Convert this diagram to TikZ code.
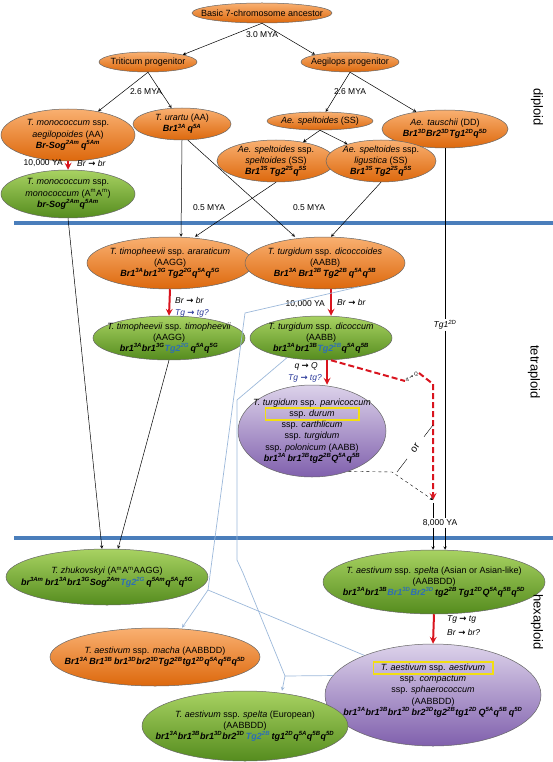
\documentclass[tikz,border=0pt]{standalone}
\usepackage{fontspec}
\setmainfont{Liberation Sans}
\newfontfamily\symf{DejaVu Sans}
\usepackage{tikz}
\usetikzlibrary{shapes.geometric,arrows,calc}

\definecolor{oraT}{HTML}{F9B071}
\definecolor{oraB}{HTML}{DD680C}
\definecolor{grnT}{HTML}{A8D262}
\definecolor{grnB}{HTML}{558C1E}
\definecolor{purT}{HTML}{DCD2EA}
\definecolor{purB}{HTML}{8060AD}
\definecolor{bandc}{HTML}{4A7EBB}
\definecolor{lblue}{HTML}{9CB8DA}
\definecolor{rd}{HTML}{D9141E}
\definecolor{gblue}{HTML}{2E6EB5}
\definecolor{tgblue}{HTML}{2B3A9A}
\definecolor{ylw}{HTML}{F2DE12}

\newcommand\su[1]{\textsuperscript{#1}}
\newcommand\gn[1]{{\bfseries\itshape #1}}
\newcommand\gto{{\symf\bfseries →}}
\newcommand\yb[2]{{\setlength\fboxsep{1pt}\setlength\fboxrule{1.5pt}\color{ylw}\fbox{\color{black}\makebox[#1]{#2}}}}

\begin{document}
\begin{tikzpicture}[x=1pt,y=-1pt,>=stealth,
  ell/.style={ellipse,draw=black!60,line width=0.5pt,inner xsep=-60pt,inner ysep=-35pt,
    align=center,font=\fontsize{9}{11.3}\selectfont},
  ora/.style={ell,top color=oraT,bottom color=oraB},
  grn/.style={ell,top color=grnT,bottom color=grnB},
  pur/.style={ell,top color=purT,bottom color=purB},
  sz/.style 2 args={minimum width=#1,minimum height=#2},
  lab/.style={inner sep=1pt,font=\fontsize{8.5}{10}\selectfont},
  ploidy/.style={rotate=-90,font=\fontsize{13}{15}\selectfont},
  bandline/.style={bandc,line width=4pt},
  con/.style={->,line width=0.5pt},
  redarr/.style={->,rd,line width=2pt},
  reddash/.style={rd,line width=2pt,dash pattern=on 6pt off 3pt},
  pale/.style={lblue,line width=0.7pt}]

\useasboundingbox (0,0) rectangle (553,762);

\draw[bandline] (14,223) -- (553,223);
\draw[bandline] (14,538) -- (553,538);

% diploid
\node[ora,sz={140}{20}] (anc) at (262,13) {Basic 7-chromosome ancestor};
\node[ora,sz={98}{20}] (trit) at (148,62) {Triticum progenitor};
\node[ora,sz={98}{20}] (aeg) at (350,62) {Aegilops progenitor};
\node[ora,sz={134}{52}] (aegil) at (68,135) {\textit{T. monococcum} ssp.\\\textit{aegilopoides} (AA)\\\gn{Br-Sog\su{2Am}\,q\su{5Am}}};
\node[ora,sz={98}{32}] (urartu) at (182,124) {\textit{T. urartu} (AA)\\\gn{Br1\su{3A}\,q\su{5A}}};
\node[ora,sz={106}{18}] (spelt) at (320,121) {\textit{Ae. speltoides} (SS)};
\node[ora,sz={126}{38}] (taus) at (445,129) {\textit{Ae. tauschii} (DD)\\\gn{Br1\su{3D}Br2\su{3D}Tg1\su{2D}q\su{5D}}};
\node[ora,sz={118}{42}] (spsp) at (276,161) {\textit{Ae. speltoides} ssp.\\\textit{speltoides} (SS)\\\gn{Br1\su{3S}\,Tg2\su{2S}q\su{5S}}};
\node[ora,sz={110}{42}] (splig) at (381,161) {\textit{Ae. speltoides} ssp.\\\textit{ligustica} (SS)\\\gn{Br1\su{3S}\,Tg2\su{2S}q\su{5S}}};
\node[grn,sz={134}{48}] (mono) at (68,194) {\textit{T. monococcum} ssp.\\\textit{monococcum} (A\su{m}A\su{m})\\\gn{br-Sog\su{2Am}q\su{5Am}}};

% tetraploid
\node[ora,sz={166}{52}] (arar) at (170,263) {\textit{T. timopheevii} ssp. \textit{araraticum}\\(AAGG)\\\gn{Br1\su{3A}br1\su{3G}\,Tg2\su{2G}q\su{5A}q\su{5G}}};
\node[ora,sz={160}{52}] (dicoides) at (325,263) {\textit{T. turgidum} ssp. \textit{dicoccoides}\\(AABB)\\\gn{Br1\su{3A}\,Br1\su{3B}\,Tg2\su{2B}\,q\su{5A}q\su{5B}}};
\node[grn,sz={152}{44}] (timo) at (169,338) {\textit{T. timopheevii} ssp. \textit{timopheevii}\\(AAGG)\\\gn{br1\su{3A}br1\su{3G}\textcolor{gblue}{Tg2\su{2G}}\,q\su{5A}q\su{5G}}};
\node[grn,sz={142}{44}] (dicum) at (321,338) {\textit{T. turgidum} ssp. \textit{dicoccum}\\(AABB)\\\gn{br1\su{3A}br1\su{3B}\textcolor{gblue}{Tg2\su{2B}}q\su{5A}q\su{5B}}};
\node[pur,sz={148}{92}] (parvi) at (312,431) {\textit{T. turgidum} ssp. \textit{parvicoccum}\\\yb{90pt}{ssp. \textit{durum}}\\ssp. \textit{carthlicum}\\ssp. \textit{turgidum}\\ssp. \textit{polonicum} (AABB)\\\gn{br1\su{3A}\,br1\su{3B}tg2\su{2B}Q\su{5A}q\su{5B}}};

% hexaploid
\node[grn,sz={202}{56}] (zhuk) at (107,577) {\textit{T. zhukovskyi} (A\su{m}A\su{m}AAGG)\\\gn{br\su{3Am}\,br1\su{3A}br1\su{3G}Sog\su{2Am}\textcolor{gblue}{Tg2\su{2G}}\,q\su{5Am}q\su{5A}q\su{5G}}};
\node[grn,sz={222}{64}] (speltaA) at (434,582) {\textit{T. aestivum} ssp. \textit{spelta} (Asian or Asian-like)\\(AABBDD)\\\gn{br1\su{3A}br1\su{3B}\textcolor{gblue}{Br1\su{3D}Br2\su{3D}}\,tg2\su{2B}\,Tg1\su{2D}Q\su{5A}q\su{5B}q\su{5D}}};
\node[ora,sz={210}{58}] (macha) at (155,657) {\textit{T. aestivum} ssp. \textit{macha} (AABBDD)\\\gn{Br1\su{3A}\,Br1\su{3B}\,br1\su{3D}br2\su{3D}Tg2\su{2B}tg1\su{2D}q\su{5A}q\su{5B}q\su{5D}}};
\node[pur,sz={216}{102}] (aest) at (433,695) {\yb{116pt}{\textit{T. aestivum} ssp. \textit{aestivum}}\\ssp. \textit{compactum}\\ssp. \textit{sphaerococcum}\\(AABBDD)\\\gn{br1\su{3A}br1\su{3B}br1\su{3D}\,br2\su{3D}tg2\su{2B}tg1\su{2D}\,Q\su{5A}q\su{5B}\,q\su{5D}}\\[2pt]\mbox{}};
\node[grn,sz={206}{70}] (speltaE) at (245,726) {\textit{T. aestivum} ssp. \textit{spelta} (European)\\(AABBDD)\\\gn{br1\su{3A}br1\su{3B}br1\su{3D}br2\su{3D}\,\textcolor{gblue}{Tg2\su{2B}}\,tg1\su{2D}q\su{5A}q\su{5B}q\su{5D}}};

\node[lab] (mya3) at (262,35) {3.0 MYA};
\node[lab] (mya26a) at (146,92) {2.6 MYA};
\node[lab] (mya26b) at (350,92) {2.6 MYA};
\node[lab,anchor=east] (ya10a) at (64,163) {10,000 YA};
\node[lab,anchor=west] (brA) at (76,163) {\textit{Br} \gto{} \textit{br}};
\node[lab] (mya05a) at (209,208) {0.5 MYA};
\node[lab] (mya05b) at (309,208) {0.5 MYA};
\node[lab,anchor=west] (brB) at (174,300) {\textit{Br} \gto{} \textit{br}};
\node[lab,anchor=west,text=tgblue] (tgB) at (174,313) {\textit{Tg} \gto{} \textit{tg?}};
\node[lab,anchor=east] (ya10b) at (326,304) {10,000 YA};
\node[lab,anchor=west] (brC) at (336,302) {\textit{Br} \gto{} \textit{br}};
\node[lab,anchor=east] (qC) at (319,366) {\textit{q} \gto{} \textit{Q}};
\node[lab,anchor=east,text=tgblue] (tgC) at (323,378) {\textit{Tg} \gto{} \textit{tg?}};
\node[lab,rotate=30,font=\fontsize{5}{6}\selectfont] (qQ) at (412,377) {\textit{q} \gto{} \textit{Q}};
\node[lab] (tg1) at (445,325) {\textit{Tg1\su{2D}}};
\node[lab] (ya8) at (440,523) {8,000 YA};
\node[lab,anchor=west] (tgD) at (446,619) {\textit{Tg} \gto{} \textit{tg}};
\node[lab,anchor=west] (brD) at (446,632) {\textit{Br} \gto{} \textit{br?}};
\node[ploidy] (dip) at (537,107) {diploid};
\node[ploidy] (tet) at (534,372) {tetraploid};
\node[ploidy] (hex) at (537,622) {hexaploid};

\coordinate (rd1) at (433,384);
\coordinate (rd2) at (433,500);
\coordinate (d1) at (392,472);
\coordinate (or1) at (433,425);
\coordinate (or2) at (397,472);
\coordinate (pa1) at (245,313);
\coordinate (pa2) at (208,590);
\coordinate (pb1) at (237,400);
\coordinate (pb2) at (237,560);
\coordinate (pb3) at (243,573);
\coordinate (pb4) at (285,676);

\draw[con] (anc.south) -- (trit.north east);
\draw[con] (anc.south) -- (aeg.north west);
\draw[con] (trit.south) -- (aegil);
\draw[con] (trit.south) -- (urartu);
\draw[con] (aeg.south) -- (spelt);
\draw[con] (aeg.south) -- (taus);
\draw[con] (spelt.south) -- (spsp);
\draw[con] (spelt.south) -- (splig);
\draw[redarr] (aegil.south) -- (mono.north);
\draw[con] (urartu.south) -- ([xshift=11pt]arar.north);
\draw[con] (urartu.-70) -- ([xshift=-30pt]dicoides.north);
\draw[con] (spsp.south) -- ([xshift=25pt]arar.north);
\draw[con] (splig.south) -- ([xshift=6pt]dicoides.north);

\draw[redarr] (arar.south) -- (timo.north);
\draw[redarr] ([xshift=6pt]dicoides.south) -- ([xshift=6pt]dicoides.south |- dicum.north);
\draw[redarr] ([xshift=6pt]dicum.south) -- ([xshift=6pt]dicum.south |- parvi.north);
\draw[reddash] ([xshift=10pt]dicum.south) -- (qQ.west);
\draw[reddash,->] (qQ.east) -- (rd1) -- (rd2);
\draw[dashed,->] (parvi.-48) -- (d1) -- (rd2);
\draw (or1) -- ($(or1)!0.25!(or2)$);
\draw ($(or1)!0.72!(or2)$) -- (or2);
\node[rotate=55,inner sep=0pt,font=\fontsize{10}{12}\selectfont] (orl) at ($(or1)!0.49!(or2)$) {or};

\draw ([yshift=-3pt]rd2) -- (rd2 |- ya8.north);
\draw[con] (rd2 |- ya8.south) -- (rd2 |- speltaA.north);
\draw (taus.south) -- (tg1.north);
\draw (tg1.south) -- (tg1.south |- ya8.north);
\draw[con] (tg1.south |- ya8.south) -- (tg1.south |- speltaA.north);

\draw[con] (mono.south) -- ([xshift=-5pt]zhuk.north);
\draw[con] (timo.south) -- ([xshift=11pt]zhuk.north);

\draw[pale] (dicoides.-35) -- (pa1) -- (pa2);
\draw[pale,->] (pa2) -- ([xshift=27pt]macha.north);
\draw[pale] (pa2) -- (aest.150);
\draw[pale] (dicum.-150) -- (pb1) -- (pb2) -- (pb3) -- (pb4);
\draw[pale,->] (pb4) -- ([xshift=37pt]speltaE.north);
\draw[pale] (pb4) -- (aest.169);

\draw[redarr] (speltaA.south) -- (aest.north);
\end{tikzpicture}
\end{document}
